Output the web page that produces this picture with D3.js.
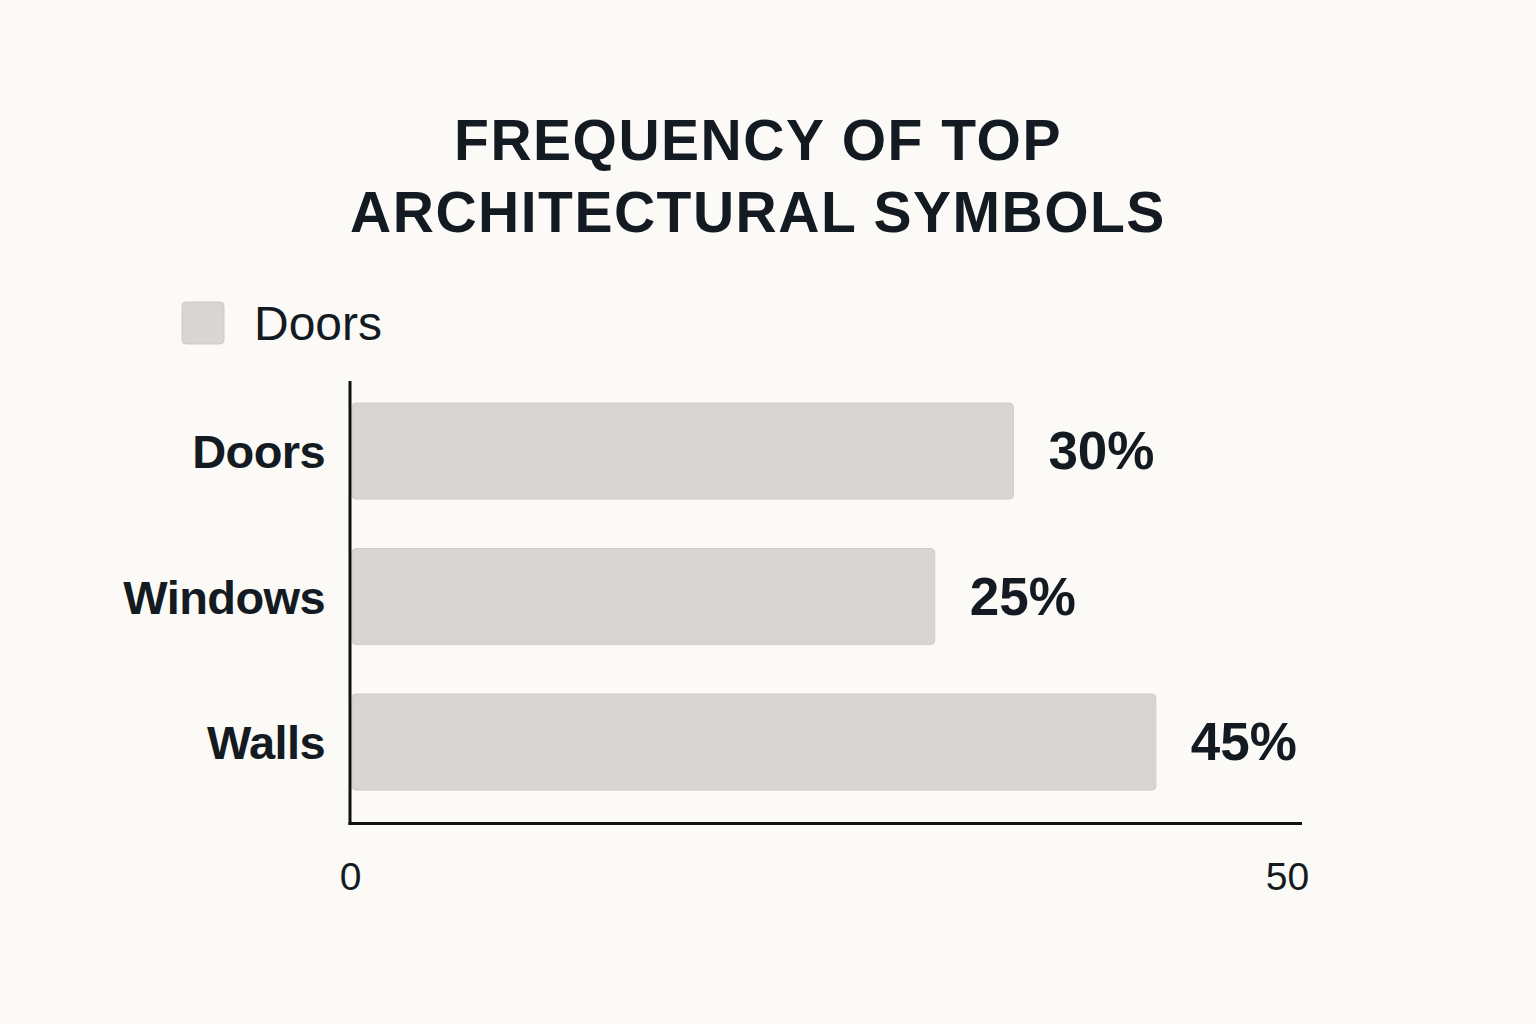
<!DOCTYPE html>
<html>
<head>
<meta charset="utf-8">
<script src="https://cdn.jsdelivr.net/npm/d3@7"></script>
<style>
  html, body { margin: 0; padding: 0; background: #fbfaf6; }
  svg { display: block; }
  text { font-family: "Liberation Sans", Arial, Helvetica, sans-serif; fill: #141a22; }
</style>
</head>
<body>
<script>
// ---- data ----
const titleLines = ["FREQUENCY OF TOP", "ARCHITECTURAL SYMBOLS"];
const categories = ["Doors", "Windows", "Walls"];
const valueLabels = [30, 25, 45];            // labelled percentages
const barLengths = [35.4, 31.2, 43.0];        // bar extents as drawn against the 0–50 axis
const legendItems = ["Doors"];
const xTicks = [0, 50];

const W = 1536, H = 1024;
const svg = d3.select("body").append("svg").attr("width", W).attr("height", H);
svg.append("rect").attr("width", W).attr("height", H).attr("fill", "#fbfaf6");

// title
svg.append("g").selectAll("text").data(titleLines).join("text")
  .attr("x", 758).attr("y", (d, i) => 160 + i * 72)
  .attr("text-anchor", "middle")
  .style("font-size", "57px").style("font-weight", "700").style("letter-spacing", "1.5px")
  .text(d => d);

// legend
const lg = svg.append("g").selectAll("g").data(legendItems).join("g");
lg.append("rect").attr("x", 182).attr("y", 302).attr("width", 42).attr("height", 42)
  .attr("rx", 4).attr("fill", "#d8d5d2").attr("stroke", "#cfccc9").attr("stroke-width", 1);
lg.append("text").attr("x", 254).attr("y", 340)
  .style("font-size", "48px").style("font-weight", "400").text(d => d);

// scales
const x = d3.scaleLinear().domain([0, 50]).range([350, 1287]);
const y = d3.scaleBand().domain(categories).range([378.3, 814.8]).paddingInner(0.34).paddingOuter(0.17);

const data = categories.map((c, i) => ({ c, v: valueLabels[i], len: barLengths[i] }));

// bars
svg.append("g").selectAll("rect").data(data).join("rect")
  .attr("x", x(0) + 2)
  .attr("y", d => y(d.c))
  .attr("width", d => x(d.len) - x(0) - 2)
  .attr("height", y.bandwidth())
  .attr("rx", 4)
  .attr("fill", "#d8d5d2")
  .attr("stroke", "#cfccc9").attr("stroke-width", 1);

// value labels
svg.append("g").selectAll("text").data(data).join("text")
  .attr("x", d => x(d.len) + 35)
  .attr("y", d => y(d.c) + y.bandwidth() / 2 + 18)
  .style("font-size", "53px").style("font-weight", "700")
  .text(d => d.v + "%");

// category labels
svg.append("g").selectAll("text").data(data).join("text")
  .attr("x", 325)
  .attr("y", d => y(d.c) + y.bandwidth() / 2 + 17)
  .attr("text-anchor", "end")
  .style("font-size", "47px").style("font-weight", "700").style("letter-spacing", "-0.6px")
  .text(d => d.c);

// axes lines
svg.append("line").attr("x1", 350).attr("x2", 350).attr("y1", 381).attr("y2", 825)
  .attr("stroke", "#111").attr("stroke-width", 3);
svg.append("line").attr("x1", 348.5).attr("x2", 1302).attr("y1", 823.5).attr("y2", 823.5)
  .attr("stroke", "#111").attr("stroke-width", 3);

// x tick labels via axis
const xAxis = d3.axisBottom(x).tickValues(xTicks).tickSize(0).tickPadding(0);
const ax = svg.append("g").attr("transform", "translate(0,862)").call(xAxis);
ax.select(".domain").remove();
ax.selectAll("text")
  .attr("dy", "0.71em")
  .style("font-size", "39px").style("font-weight", "400")
  .style("font-family", "'Liberation Sans', Arial, sans-serif")
  .attr("fill", "#141a22");
</script>
</body>
</html>
